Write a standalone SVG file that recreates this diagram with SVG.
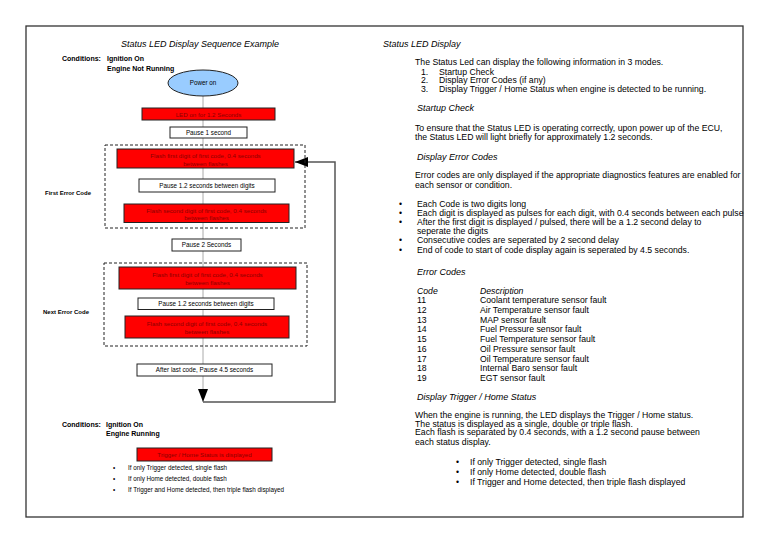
<svg xmlns="http://www.w3.org/2000/svg" width="768" height="543" viewBox="0 0 768 543">
<style>
text{font-family:"Liberation Sans",Arial,sans-serif;fill:#000}
.red{fill:#ff0000;stroke:#222;stroke-width:1}
.wht{fill:#fff;stroke:#222;stroke-width:1}
.dash{fill:none;stroke:#222;stroke-width:1;stroke-dasharray:3,2}
.bt{font-size:6.3px;text-anchor:middle}
.rt{font-size:6.2px;text-anchor:middle;fill:#8b0000}
.cond{font-size:7px;font-weight:bold}
.lbl{font-size:6px;font-weight:bold}
.sm{font-size:6.3px}
.h{font-size:9px;font-style:italic}
.p{font-size:8.7px}
</style>
<defs>
<marker id="ah" markerUnits="userSpaceOnUse" markerWidth="14" markerHeight="12" refX="13" refY="5" orient="auto" viewBox="0 0 14 10">
<path d="M0,0 L13,5 L0,10 Z" fill="#000"/>
</marker>
</defs>
<rect x="26" y="26" width="717" height="491" fill="#fff" stroke="#333" stroke-width="1.3"/>

<g id="connectors">
<path d="M203 96 V402" fill="none" stroke="#aaa" stroke-width="1" marker-end="url(#ah)"/>
<path d="M203 402 H335 V162 H295" fill="none" stroke="#555" stroke-width="1.5" marker-end="url(#ah)"/>
</g>

<text class="h" x="200" y="47" text-anchor="middle">Status LED Display Sequence Example</text>
<text class="cond" x="62" y="61">Conditions: <tspan x="107">Ignition On</tspan></text>
<text class="cond" x="107" y="71">Engine Not Running</text>

<g id="power-on">
<ellipse cx="203" cy="83" rx="35" ry="13" fill="#99ccff" stroke="#222" stroke-width="1"/>
<text class="bt" x="203" y="85" fill="#000">Power on</text>
</g>
<g id="led-on">
<rect class="red" x="142" y="108" width="133" height="12"/>
<text class="rt" x="208.5" y="116.5">LED on for 1.2 Seconds</text>
</g>
<g id="pause-1">
<rect class="wht" x="170" y="127" width="77" height="11"/>
<text class="bt" x="208.5" y="134.5">Pause 1 second</text>
</g>

<g id="first-error-code">
<rect class="dash" x="105" y="145" width="200" height="83"/>
<text class="lbl" x="45" y="195">First Error Code</text>
</g>
<g id="flash-first-1">
<rect class="red" x="117" y="149" width="177" height="19"/>
<text class="rt" x="205.5" y="158">Flash first digit of first code, 0.4 seconds</text>
<text class="rt" x="205.5" y="165.5">between flashes</text>
</g>
<g id="pause-digits-1">
<rect class="wht" x="139" y="179" width="136" height="13"/>
<text class="bt" x="207" y="187.5">Pause 1.2 seconds between digits</text>
</g>
<g id="flash-second-1">
<rect class="red" x="124" y="204" width="165" height="18.5"/>
<text class="rt" x="206.5" y="212.5">Flash second digit of first code, 0.4 seconds</text>
<text class="rt" x="206.5" y="219.5">between flashes</text>
</g>

<g id="pause-2">
<rect class="wht" x="172" y="239" width="69" height="12"/>
<text class="bt" x="206.5" y="247">Pause 2 Seconds</text>
</g>

<g id="next-error-code">
<rect class="dash" x="104" y="263" width="203" height="83"/>
<text class="lbl" x="43" y="314">Next Error Code</text>
</g>
<g id="flash-first-2">
<rect class="red" x="119" y="267" width="177" height="22"/>
<text class="rt" x="207.5" y="276.5">Flash first digit of first code, 0.4 seconds</text>
<text class="rt" x="207.5" y="284.5">between flashes</text>
</g>
<g id="pause-digits-2">
<rect class="wht" x="138" y="298" width="136" height="11.5"/>
<text class="bt" x="206" y="306">Pause 1.2 seconds between digits</text>
</g>
<g id="flash-second-2">
<rect class="red" x="125" y="316" width="164" height="22"/>
<text class="rt" x="207" y="326">Flash second digit of first code, 0.4 seconds</text>
<text class="rt" x="207" y="333.5">between flashes</text>
</g>

<g id="after-last">
<rect class="wht" x="137" y="364" width="135" height="12"/>
<text class="bt" x="204.5" y="372">After last code, Pause 4.5 seconds</text>
</g>

<text class="cond" x="62" y="426.5">Conditions: <tspan x="106">Ignition On</tspan></text>
<text class="cond" x="106" y="435.5">Engine Running</text>

<g id="trigger-home">
<rect class="red" x="137" y="448" width="135" height="13"/>
<text class="rt" x="204.5" y="456.5">Trigger / Home Status is displayed</text>
</g>
<text class="sm" x="113" y="469.5">•</text>
<text class="sm" x="128" y="469.5">If only Trigger detected, single flash</text>
<text class="sm" x="113" y="480.5">•</text>
<text class="sm" x="128" y="480.5">If only Home detected, double flash</text>
<text class="sm" x="113" y="491.5">•</text>
<text class="sm" x="128" y="491.5">If Trigger and Home detected, then triple flash displayed</text>

<text class="h" x="383" y="47">Status LED Display</text>
<text class="p" x="415" y="65">The Status Led can display the following information in 3 modes.</text>
<text class="p" x="421" y="74.5">1.</text><text class="p" x="439" y="74.5">Startup Check</text>
<text class="p" x="421" y="83">2.</text><text class="p" x="439" y="83">Display Error Codes (if any)</text>
<text class="p" x="421" y="91.5">3.</text><text class="p" x="439" y="91.5">Display Trigger / Home Status when engine is detected to be running.</text>

<text class="h" x="417" y="111">Startup Check</text>
<text class="p" x="415" y="131">To ensure that the Status LED is operating correctly, upon power up of the ECU,</text>
<text class="p" x="415" y="140">the Status LED will light briefly for approximately 1.2 seconds.</text>

<text class="h" x="417" y="160">Display Error Codes</text>
<text class="p" x="415" y="178">Error codes are only displayed if the appropriate diagnostics features are enabled for</text>
<text class="p" x="415" y="187.5">each sensor or condition.</text>
<text class="p" x="399" y="207">•</text><text class="p" x="417" y="207">Each Code is two digits long</text>
<text class="p" x="399" y="216">•</text><text class="p" x="417" y="216">Each digit is displayed as pulses for each digit, with 0.4 seconds between each pulse</text>
<text class="p" x="399" y="225">•</text><text class="p" x="417" y="225">After the first digit is displayed / pulsed, there will be a 1.2 second delay to</text>
<text class="p" x="417" y="234">seperate the digits</text>
<text class="p" x="399" y="243">•</text><text class="p" x="417" y="243">Consecutive codes are seperated by 2 second delay</text>
<text class="p" x="399" y="252.5">•</text><text class="p" x="417" y="252.5">End of code to start of code display again is seperated by 4.5 seconds.</text>

<text class="h" x="417" y="275">Error Codes</text>
<text class="p" x="417" y="294" font-style="italic">Code</text><text class="p" x="480" y="294" font-style="italic">Description</text>
<text class="p" x="417" y="303">11</text><text class="p" x="480" y="303">Coolant temperature sensor fault</text>
<text class="p" x="417" y="312.7">12</text><text class="p" x="480" y="312.7">Air Temperature sensor fault</text>
<text class="p" x="417" y="322.5">13</text><text class="p" x="480" y="322.5">MAP sensor fault</text>
<text class="p" x="417" y="332.2">14</text><text class="p" x="480" y="332.2">Fuel Pressure sensor fault</text>
<text class="p" x="417" y="342">15</text><text class="p" x="480" y="342">Fuel Temperature sensor fault</text>
<text class="p" x="417" y="351.7">16</text><text class="p" x="480" y="351.7">Oil Pressure sensor fault</text>
<text class="p" x="417" y="361.5">17</text><text class="p" x="480" y="361.5">Oil Temperature sensor fault</text>
<text class="p" x="417" y="371.2">18</text><text class="p" x="480" y="371.2">Internal Baro sensor fault</text>
<text class="p" x="417" y="381">19</text><text class="p" x="480" y="381">EGT sensor fault</text>

<text class="h" x="417" y="400">Display Trigger / Home Status</text>
<text class="p" x="415" y="418">When the engine is running, the LED displays the Trigger / Home status.</text>
<text class="p" x="415" y="426.5">The status is displayed as a single, double or triple flash.</text>
<text class="p" x="415" y="435">Each flash is separated by 0.4 seconds, with a 1.2 second pause between</text>
<text class="p" x="415" y="444.5">each status display.</text>
<text class="p" x="456" y="465">•</text><text class="p" x="470" y="465">If only Trigger detected, single flash</text>
<text class="p" x="456" y="475">•</text><text class="p" x="470" y="475">If only Home detected, double flash</text>
<text class="p" x="456" y="485">•</text><text class="p" x="470" y="485">If Trigger and Home detected, then triple flash displayed</text>
</svg>
